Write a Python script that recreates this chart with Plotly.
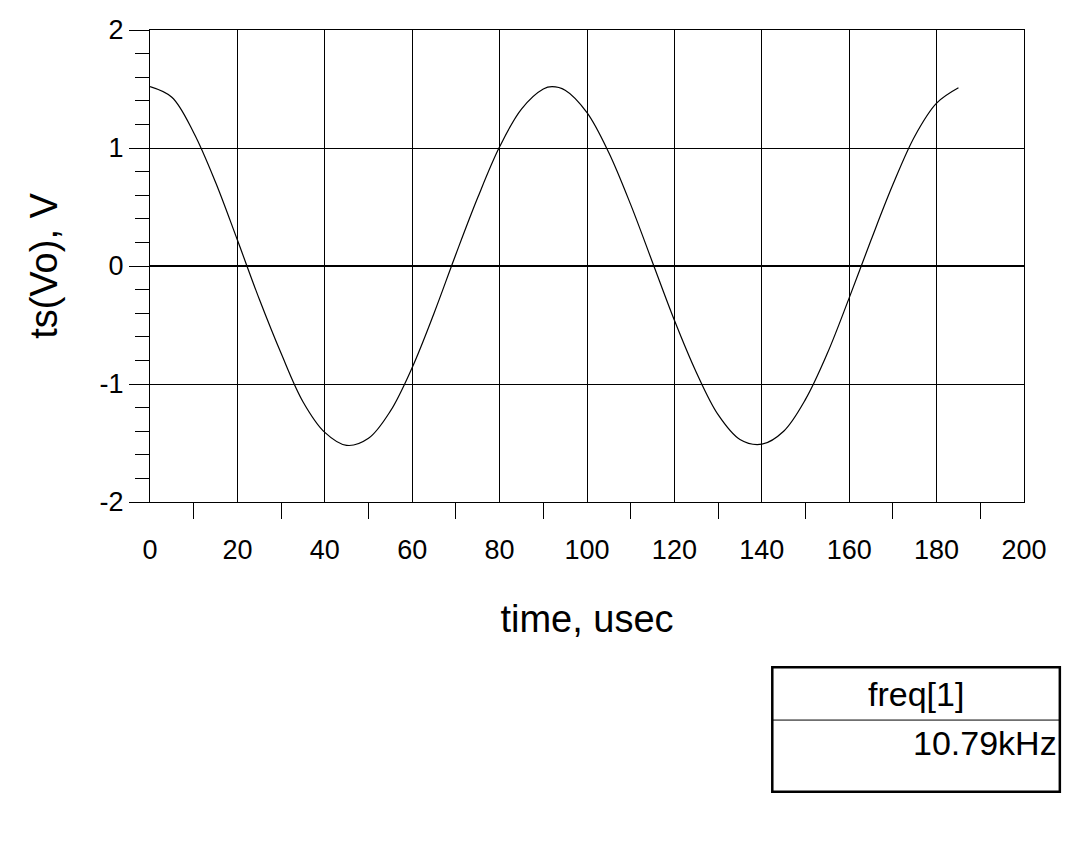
import plotly.graph_objects as go

# time (usec) and ts(Vo) (V)
time_us = [0, 5, 10, 15, 20, 25, 30, 35, 40, 45, 50, 55, 60, 65, 70, 75, 80, 85, 90, 92,
           95, 100, 105, 110, 115, 120, 125, 130, 135, 140, 145, 150, 155, 160, 165, 170,
           175, 180, 185]
vo = [1.52, 1.43, 1.13, 0.71, 0.22, -0.28, -0.74, -1.15, -1.41, -1.52, -1.46, -1.23,
      -0.86, -0.40, 0.10, 0.58, 1.01, 1.33, 1.50, 1.52, 1.49, 1.30, 0.96, 0.52, 0.03,
      -0.46, -0.90, -1.26, -1.47, -1.51, -1.40, -1.13, -0.74, -0.27, 0.22, 0.69, 1.10,
      1.38, 1.51]
y_ticks = [-2, -1, 0, 1, 2]
y_labels = ['-2', '-1', '0', '1', '2']
freq_label = "freq[1]"
freq_value = "10.79kHz"

fig = go.Figure()
fig.add_trace(go.Scatter(x=time_us, y=vo, mode='lines', line=dict(color='black', width=1.2, shape='spline')))

font = "Liberation Sans, Arial, sans-serif"
fig.update_layout(
    width=1054, height=825,
    margin=dict(l=142, r=38, t=22, b=331),
    plot_bgcolor='white', paper_bgcolor='white',
    showlegend=False,
    font=dict(family=font, color='black', size=27),
    xaxis=dict(range=[0, 200], dtick=20, showgrid=True, gridcolor='black', gridwidth=1,
               zeroline=False, showline=True, linecolor='black', mirror=True,
               ticks='outside', ticklen=0, automargin=False, ticklabelstandoff=24,
               minor=dict(dtick=10, ticks='outside', ticklen=16, tickcolor='black', showgrid=False),
               title=dict(text='time, usec', font=dict(size=38), standoff=40)),
    yaxis=dict(range=[-2, 2], tickvals=y_ticks, ticktext=y_labels, showgrid=True,
               gridcolor='black', gridwidth=1,
               zeroline=True, zerolinecolor='black', zerolinewidth=1.5,
               showline=True, linecolor='black', mirror=True,
               ticks='outside', ticklen=20, tickcolor='black', automargin=False,
               minor=dict(dtick=0.2, ticks='outside', ticklen=14, tickcolor='black', showgrid=False),
               title=dict(text='ts(Vo), V', font=dict(size=38), standoff=30)),
)

# readout box
fig.add_shape(type='rect', xref='paper', yref='paper', x0=0.712, x1=1.041, y0=-0.614, y1=-0.350,
              line=dict(color='black', width=2.5))
fig.add_shape(type='line', xref='paper', yref='paper', x0=0.712, x1=1.041, y0=-0.462, y1=-0.462,
              line=dict(color='black', width=1))
fig.add_annotation(xref='paper', yref='paper', x=0.876, y=-0.406, text=freq_label, showarrow=False,
                   font=dict(size=34), xanchor='center', yanchor='middle')
fig.add_annotation(xref='paper', yref='paper', x=1.040, y=-0.510, text=freq_value, showarrow=False,
                   font=dict(size=34), xanchor='right', yanchor='middle')

fig.write_html("out.html")
